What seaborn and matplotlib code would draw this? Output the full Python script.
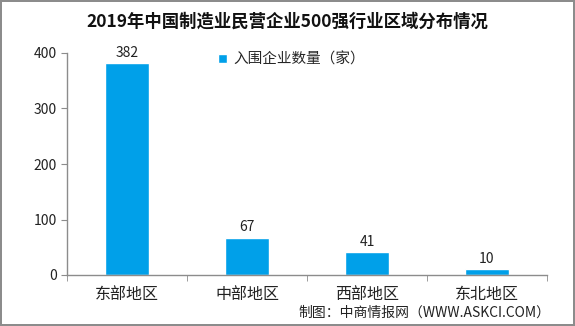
import matplotlib
matplotlib.use("Agg")
import matplotlib.pyplot as plt
import seaborn as sns
import pandas as pd

categories = ["东部地区", "中部地区", "西部地区", "东北地区"]
values = [382, 67, 41, 10]
series_name = "入围企业数量（家）"
yticks = [0, 100, 200, 300, 400]
title = "2019年中国制造业民营企业500强行业区域分布情况"
source = "制图：中商情报网（WWW.ASKCI.COM）"

sns.set_style("white")
plt.rcParams['font.family'] = ['Noto Sans CJK SC', 'DejaVu Sans']

df = pd.DataFrame({"region": categories, "count": values, "series": series_name})

fig = plt.figure(figsize=(5.75, 3.26), dpi=100)
fig.patch.set_edgecolor("#8c8c8c")
fig.patch.set_linewidth(1.5)
ax = fig.add_axes([67/575, 1-275/326, (547-67)/575, (275-53)/326])

color = "#00A0E9"
sns.barplot(data=df, x="region", y="count", hue="series", palette=[color],
            width=0.36, saturation=1, ax=ax, legend=True)

ax.set_ylim(0, 400)
ax.set_xlim(-0.5, 3.5)
ax.set_yticks(yticks)
ax.set_xlabel("")
ax.set_ylabel("")
for s in ["top", "right"]:
    ax.spines[s].set_visible(False)
for s in ["left", "bottom"]:
    ax.spines[s].set_color("#8c8c8c")
    ax.spines[s].set_linewidth(1)

ax.tick_params(axis="y", which="major", length=4, color="#8c8c8c", labelsize=10, labelcolor="#222222", left=True)
ax.tick_params(axis="x", which="major", length=0, labelsize=11.5, labelcolor="#222222", pad=8)
ax.set_xticks([-0.5, 0.5, 1.5, 2.5, 3.5], minor=True)
ax.tick_params(axis="x", which="minor", length=4, color="#8c8c8c", bottom=True)

for i, v in enumerate(values):
    ax.text(i, v + 6, str(v), ha="center", va="bottom", fontsize=10, color="#222222", clip_on=False)

leg = ax.legend(loc="upper left", bbox_to_anchor=(0.288, 1.06), frameon=False,
                handlelength=0.6, handleheight=0.6, handletextpad=0.4, fontsize=10.5)

fig.text(0.5, 1-22/326, title, ha="center", va="center", fontsize=12.5, fontweight="bold", color="#111111")
fig.text(0.958, 1-313/326, source, ha="right", va="center", fontsize=10, color="#222222")

fig.savefig("out.png", dpi=100, edgecolor=fig.get_edgecolor())
